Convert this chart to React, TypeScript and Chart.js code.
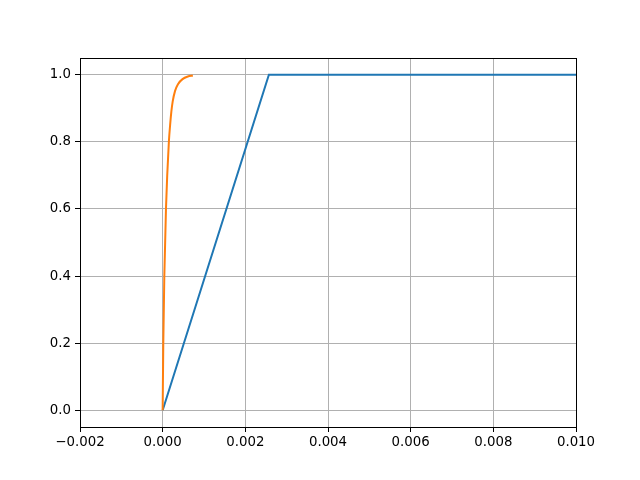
import React, { useEffect, useRef } from "react";
import { Chart, registerables } from "chart.js";

Chart.register(...registerables);

const BLUE_X = [0, 0.00257, 0.01];
const BLUE_Y = [0, 1, 1];

const ORANGE_X = [0, 0.000015, 0.00004, 0.00008, 0.00011, 0.00015, 0.00018, 0.00021, 0.000242, 0.0003, 0.00037, 0.00048, 0.00061, 0.00073];
const ORANGE_Y = [0, 0.2, 0.4, 0.6, 0.7, 0.8, 0.85, 0.89, 0.92, 0.952, 0.972, 0.987, 0.995, 0.998];

const X_TICKS = [-0.002, 0, 0.002, 0.004, 0.006, 0.008, 0.01];
const Y_TICKS = [0, 0.2, 0.4, 0.6, 0.8, 1.0];

const X_MIN = -0.002;
const X_MAX = 0.01;
const Y_MIN = -0.05;
const Y_MAX = 1.05;

const FONT = { family: "DejaVu Sans", size: 13.33 };

function fmt(v: number, d: number) {
  const s = Math.abs(v).toFixed(d);
  return v < -1e-12 ? "\u2212" + s : s;
}

const boxPlugin = {
  id: "box",
  afterDraw(chart: any) {
    const { ctx, chartArea } = chart;
    ctx.save();
    ctx.strokeStyle = "#000";
    ctx.lineWidth = 1;
    ctx.strokeRect(
      Math.round(chartArea.left) + 0.5,
      Math.round(chartArea.top) + 0.5,
      Math.round(chartArea.right - chartArea.left),
      Math.round(chartArea.bottom - chartArea.top)
    );
    ctx.restore();
  },
};

export default function App() {
  const ref = useRef<HTMLCanvasElement | null>(null);
  useEffect(() => {
    document.body.style.margin = "0";
    const canvas = ref.current;
    if (!canvas) return;
    const chart = new Chart(canvas, {
      type: "scatter",
      data: {
        datasets: [
          {
            data: BLUE_X.map((x, i) => ({ x, y: BLUE_Y[i] })),
            borderColor: "#1f77b4",
            backgroundColor: "#1f77b4",
            borderWidth: 2,
            showLine: true,
            pointRadius: 0,
            order: 2,
          },
          {
            data: ORANGE_X.map((x, i) => ({ x, y: ORANGE_Y[i] })),
            borderColor: "#ff7f0e",
            backgroundColor: "#ff7f0e",
            borderWidth: 2,
            showLine: true,
            pointRadius: 0,
            cubicInterpolationMode: "monotone",
            borderJoinStyle: "round",
            order: 1,
          },
        ],
      },
      options: {
        animation: false,
        responsive: false,
        devicePixelRatio: 1,
        layout: { padding: { left: 0, right: 64, top: 58, bottom: 0 } },
        plugins: { legend: { display: false }, tooltip: { enabled: false } },
        scales: {
          x: {
            type: "linear",
            min: X_MIN,
            max: X_MAX,
            afterBuildTicks: (s: any) => {
              s.ticks = X_TICKS.map((v) => ({ value: v }));
            },
            afterFit: (s: any) => {
              s.height = 53;
            },
            ticks: {
              callback: (v: any) => fmt(Number(v), 3),
              color: "#000",
              font: FONT,
              padding: 3,
              maxRotation: 0,
              autoSkip: false,
            },
            grid: { color: "#b0b0b0", lineWidth: 1, tickColor: "#000", tickLength: 5 },
            border: { display: true, color: "#000", width: 1 },
          },
          y: {
            type: "linear",
            min: Y_MIN,
            max: Y_MAX,
            afterBuildTicks: (s: any) => {
              s.ticks = Y_TICKS.map((v) => ({ value: v }));
            },
            afterFit: (s: any) => {
              s.width = 80;
            },
            ticks: {
              callback: (v: any) => fmt(Number(v), 1),
              color: "#000",
              font: FONT,
              padding: 4,
              autoSkip: false,
            },
            grid: { color: "#b0b0b0", lineWidth: 1, tickColor: "#000", tickLength: 5 },
            border: { display: true, color: "#000", width: 1 },
          },
        },
      },
      plugins: [boxPlugin],
    } as any);
    return () => chart.destroy();
  }, []);
  return (
    <div style={{ position: "absolute", left: 0, top: 0, width: 640, height: 480, background: "#fff" }}>
      <canvas ref={ref} width={640} height={480} style={{ width: 640, height: 480 }} />
    </div>
  );
}
